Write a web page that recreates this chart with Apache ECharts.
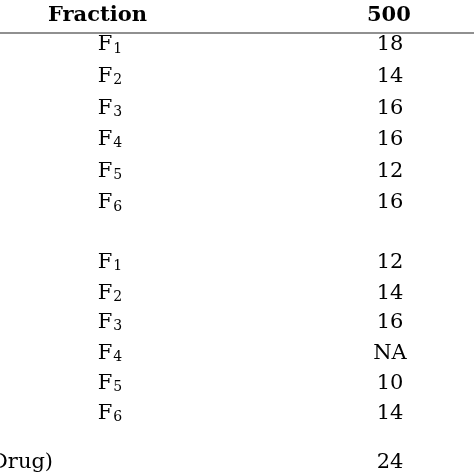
<!DOCTYPE html><html><head><meta charset="utf-8">
<script src="https://cdn.jsdelivr.net/npm/echarts@6/dist/echarts.min.js"></script>
<style>html,body{margin:0;background:#fff}#c{width:474px;height:474px}</style></head><body><div id="c"></div>
<script>
const headers = ['Fraction', '500'];
const fractions = ['1','2','3','4','5','6','1','2','3','4','5','6'];
const values = ['18','14','16','16','12','16','12','14','16','NA','10','14'];
const rows = [0,1,2,3,4,5,6.87,7.85,8.77,9.75,10.7,11.65];
const lastLabel = 'Drug)';
const lastValue = '24';
const lastRow = 13.2;

const font = '"DejaVu Serif",serif';
const fracData = fractions.map((f,i)=>({value:[110,rows[i]],name:f}));
const valData = values.map((v,i)=>({value:[390,rows[i]],name:v}));
valData.push({value:[390,lastRow],name:lastValue});
const base = {type:'scatter',symbolSize:0,clip:false,silent:true,itemStyle:{opacity:1}};
const chart = echarts.init(document.getElementById('c'));
chart.setOption({
  animation:false,
  grid:{left:0,right:0,top:0,bottom:0},
  xAxis:{type:'value',min:0,max:474,show:false},
  yAxis:{type:'value',inverse:true,min:-1.424,max:13.576,show:false},
  series:[
    Object.assign({},base,{data:fracData,
     label:{show:true,position:'inside',formatter:p=>'{m|F}{s|'+p.name+'}',
       rich:{m:{fontFamily:font,fontSize:21,color:'#000'},s:{fontFamily:font,fontSize:14,color:'#000',padding:[8,0,0,1]}}}}),
    Object.assign({},base,{data:valData,
     label:{show:true,position:'inside',formatter:p=>p.name,fontFamily:font,fontSize:21,color:'#000'}}),
    Object.assign({},base,{data:[{value:[-9,lastRow],name:lastLabel}],
     label:{show:true,position:'inside',align:'left',formatter:p=>p.name,fontFamily:font,fontSize:21,color:'#000'}})
  ],
  graphic:[
    {type:'text',left:48,top:5,style:{text:headers[0],font:'bold 21px '+font,fill:'#000'}},
    {type:'text',left:367,top:5,style:{text:headers[1],font:'bold 21px '+font,fill:'#000'}},
    {type:'line',shape:{x1:0,y1:33,x2:474,y2:33},style:{stroke:'#222',lineWidth:1.2}}
  ]
});
</script></body></html>
